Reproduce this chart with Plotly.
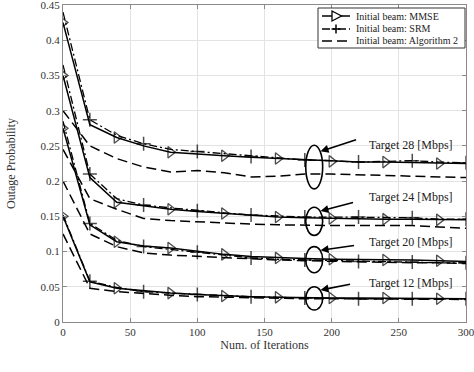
import plotly.graph_objects as go

# ---------------- data ----------------
iterations = [0, 20, 40, 60, 80, 100, 120, 140, 160, 180, 200, 220, 240, 260, 280, 300]

mmse_28 = [0.425, 0.280, 0.262, 0.250, 0.241, 0.238, 0.236, 0.234, 0.232, 0.230, 0.228, 0.227, 0.227, 0.226, 0.225, 0.225]
srm_28  = [0.440, 0.287, 0.265, 0.253, 0.245, 0.242, 0.239, 0.235, 0.232, 0.230, 0.229, 0.227, 0.228, 0.229, 0.227, 0.226]
alg2_28 = [0.300, 0.250, 0.232, 0.220, 0.213, 0.215, 0.212, 0.206, 0.207, 0.210, 0.210, 0.209, 0.208, 0.208, 0.207, 0.205]

mmse_24 = [0.350, 0.205, 0.170, 0.165, 0.160, 0.157, 0.154, 0.151, 0.149, 0.148, 0.147, 0.147, 0.146, 0.146, 0.145, 0.145]
srm_24  = [0.365, 0.210, 0.175, 0.166, 0.162, 0.158, 0.155, 0.152, 0.150, 0.149, 0.149, 0.149, 0.148, 0.148, 0.146, 0.146]
alg2_24 = [0.245, 0.175, 0.160, 0.147, 0.144, 0.142, 0.140, 0.139, 0.138, 0.137, 0.137, 0.137, 0.137, 0.137, 0.135, 0.133]

mmse_20 = [0.275, 0.138, 0.114, 0.108, 0.105, 0.100, 0.096, 0.093, 0.091, 0.090, 0.089, 0.089, 0.088, 0.088, 0.087, 0.086]
srm_20  = [0.285, 0.140, 0.116, 0.107, 0.103, 0.099, 0.095, 0.091, 0.089, 0.088, 0.087, 0.086, 0.085, 0.085, 0.084, 0.084]
alg2_20 = [0.200, 0.125, 0.107, 0.098, 0.095, 0.093, 0.091, 0.089, 0.088, 0.087, 0.086, 0.085, 0.085, 0.084, 0.084, 0.083]

mmse_12 = [0.150, 0.057, 0.048, 0.044, 0.041, 0.039, 0.037, 0.036, 0.035, 0.034, 0.034, 0.034, 0.034, 0.033, 0.033, 0.033]
srm_12  = [0.152, 0.058, 0.049, 0.043, 0.041, 0.039, 0.037, 0.036, 0.035, 0.034, 0.034, 0.033, 0.033, 0.033, 0.033, 0.033]
alg2_12 = [0.125, 0.048, 0.043, 0.040, 0.038, 0.036, 0.035, 0.034, 0.034, 0.033, 0.033, 0.033, 0.033, 0.032, 0.032, 0.032]

series_names = ["Initial beam: MMSE", "Initial beam: SRM", "Initial beam: Algorithm 2"]
target_labels = ["Target 28 [Mbps]", "Target 24 [Mbps]", "Target 20 [Mbps]", "Target 12 [Mbps]"]
groups = [
    (mmse_28, srm_28, alg2_28),
    (mmse_24, srm_24, alg2_24),
    (mmse_20, srm_20, alg2_20),
    (mmse_12, srm_12, alg2_12),
]

x_ticks = [0, 50, 100, 150, 200, 250, 300]
y_ticks = [0, 0.05, 0.1, 0.15, 0.2, 0.25, 0.3, 0.35, 0.4, 0.45]

# ---------------- styling ----------------
W, H = 474, 372
ML, MR, MT, MB = 63, 8, 5, 50
PW, PH = W - ML - MR, H - MT - MB
SERIF = "Liberation Serif, Times New Roman, serif"
MS = 10
mmse_sizes = [MS if i % 2 == 0 else 0 for i in range(len(iterations))]
srm_sizes = [MS if i % 2 == 1 else 0 for i in range(len(iterations))]

SRM_DASH = "8px,3px,2px,3px"
ALG_DASH = "10px,5px"
mmse_line = dict(color="black", width=1.5)
srm_line = dict(color="black", width=1.3, dash=SRM_DASH)
alg2_line = dict(color="black", width=1.5, dash=ALG_DASH)
mmse_marker = dict(symbol="triangle-right-open", color="black", line=dict(width=1.3, color="black"))
srm_marker = dict(symbol="cross-thin-open", color="black", line=dict(width=1.5, color="black"))

fig = go.Figure()
for m, s, a in groups:
    fig.add_trace(go.Scatter(x=iterations, y=m, mode="lines+markers", showlegend=False,
                             line=mmse_line, marker=dict(size=mmse_sizes, **mmse_marker)))
    fig.add_trace(go.Scatter(x=iterations, y=s, mode="lines+markers", showlegend=False,
                             line=srm_line, marker=dict(size=srm_sizes, **srm_marker)))
    fig.add_trace(go.Scatter(x=iterations, y=a, mode="lines", showlegend=False,
                             line=alg2_line))

shapes = []
annotations = []

# ellipses + labelled arrows
ell_x = 187
ell_halfw = 6.3
ell_halfh = [0.031, 0.02, 0.0185, 0.0165]
ell_idx = iterations.index(180)
arrow_off = [(37, -12), (34, -9), (35, -5), (31, -6)]
label_y = [0.251, 0.177, 0.113, 0.056]
for gi, (m, s, a) in enumerate(groups):
    vals = [m[ell_idx], s[ell_idx], a[ell_idx]]
    c = (min(vals) + max(vals)) / 2
    h = ell_halfh[gi]
    shapes.append(dict(type="circle", xref="x", yref="y",
                       x0=ell_x - ell_halfw, x1=ell_x + ell_halfw, y0=c - h, y1=c + h,
                       line=dict(color="black", width=1.6)))
    annotations.append(dict(x=ell_x + 0.75 * ell_halfw, y=c + 0.72 * h, xref="x", yref="y",
                            text="", showarrow=True, ax=arrow_off[gi][0], ay=arrow_off[gi][1],
                            arrowhead=2, arrowsize=1, arrowwidth=1.6, arrowcolor="black"))
    annotations.append(dict(x=259, y=label_y[gi], xref="x", yref="y",
                            text=target_labels[gi], showarrow=False,
                            font=dict(family=SERIF, size=12, color="#222")))

# compact legend box (drawn as layout decorations, placed in pixels)
def px(xp):
    return (xp - ML) / PW

def py(yp):
    return (H - MB - yp) / PH

LEG_L, LEG_R, LEG_T, LEG_B = 318, 465, 8, 48
leg_rows = [16, 29, 41]
SAMPLE_L, SAMPLE_R, SAMPLE_C, TEXT_L = 322, 350, 336, 354
shapes.append(dict(type="rect", xref="paper", yref="paper",
                   x0=px(LEG_L), x1=px(LEG_R), y0=py(LEG_B), y1=py(LEG_T),
                   fillcolor="white", line=dict(color="#333", width=1), layer="above"))
leg_styles = [("solid", 1.5), (SRM_DASH, 1.3), (ALG_DASH, 1.5)]
for r, (dash, lw) in zip(leg_rows, leg_styles):
    shapes.append(dict(type="line", xref="paper", yref="paper",
                       x0=px(SAMPLE_L), x1=px(SAMPLE_R), y0=py(r), y1=py(r),
                       line=dict(color="black", width=lw, dash=dash), layer="above"))
# triangle marker sample
r0 = leg_rows[0]
tri = "M {a},{b} L {a},{c} L {d},{e} Z".format(
    a=px(SAMPLE_C - 4), b=py(r0 - 5), c=py(r0 + 5), d=px(SAMPLE_C + 5.5), e=py(r0))
shapes.append(dict(type="path", xref="paper", yref="paper", path=tri,
                   fillcolor="white", line=dict(color="black", width=1.3), layer="above"))
# plus marker sample
r1 = leg_rows[1]
shapes.append(dict(type="line", xref="paper", yref="paper",
                   x0=px(SAMPLE_C - 4.5), x1=px(SAMPLE_C + 4.5), y0=py(r1), y1=py(r1),
                   line=dict(color="black", width=1.5), layer="above"))
shapes.append(dict(type="line", xref="paper", yref="paper",
                   x0=px(SAMPLE_C), x1=px(SAMPLE_C), y0=py(r1 - 4.5), y1=py(r1 + 4.5),
                   line=dict(color="black", width=1.5), layer="above"))
for r, name in zip(leg_rows, series_names):
    annotations.append(dict(x=px(TEXT_L), y=py(r), xref="paper", yref="paper",
                            xanchor="left", yanchor="middle", text=name, showarrow=False,
                            font=dict(family=SERIF, size=10, color="#222")))

axis_common = dict(
    showline=True, linecolor="#8a8a8a", linewidth=1, mirror="ticks",
    ticks="inside", ticklen=4, tickcolor="#8a8a8a",
    showgrid=True, gridcolor="#e3e3e3", gridwidth=1, zeroline=False,
    tickfont=dict(family=SERIF, size=11, color="#333"),
    automargin=False, ticklabeloverflow="allow",
)

fig.update_layout(
    width=W, height=H,
    margin=dict(l=ML, r=MR, t=MT, b=MB),
    paper_bgcolor="white", plot_bgcolor="white",
    showlegend=False,
    xaxis=dict(range=[0, 300], tickvals=x_ticks,
               title=dict(text="Num. of Iterations", standoff=2,
                          font=dict(family=SERIF, size=12, color="#333")),
               **axis_common),
    yaxis=dict(range=[0, 0.45], tickvals=y_ticks,
               ticktext=[("%g" % v) for v in y_ticks],
               title=dict(text="Outage Probability", standoff=22,
                          font=dict(family=SERIF, size=12, color="#333")),
               **axis_common),
    shapes=shapes,
    annotations=annotations,
)

fig.write_html("out.html", config={"displayModeBar": False},
               post_script="document.body.style.margin='0px';")
